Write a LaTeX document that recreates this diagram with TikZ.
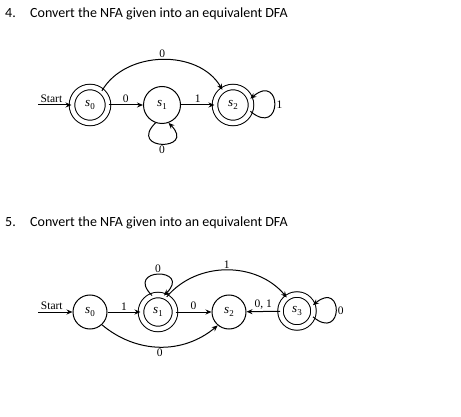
\documentclass[tikz,border=0pt]{standalone}
\usepackage{fontspec}
\setmainfont{Liberation Serif}
\newfontfamily\titlefont{Carlito}
\usetikzlibrary{arrows.meta}
\newcommand{\stlab}[1]{{\itshape s}\kern0.3pt\raisebox{-2.5pt}{\fontsize{9}{10}\selectfont #1}}
\tikzset{
  st/.style={circle,draw,line width=1pt,minimum size=37pt,inner sep=0pt,font=\fontsize{13}{14}\selectfont},
  acc/.style={st,double,double distance=4.5pt,minimum size=36pt},
  edge/.style={line width=1pt,-{Stealth[length=6pt,width=5pt]}},
  lab/.style={font=\fontsize{11.5}{13}\selectfont,inner sep=1.5pt},
  ttl/.style={font=\titlefont\fontsize{14}{16}\selectfont,anchor=base west,inner sep=0pt}
}
\begin{document}
\begin{tikzpicture}[x=1pt,y=1pt]
\useasboundingbox (0,0) rectangle (461,-417);
% titles
\node[ttl] (t4n) at (5,-18) {4.};
\node[ttl] (t4) at (30,-18) {Convert the NFA given into an equivalent DFA};
\node[ttl] (t5n) at (5,-226) {5.};
\node[ttl] (t5) at (30,-226) {Convert the NFA given into an equivalent DFA};
% ---- diagram 4 ----
\node[acc] (a0) at (90,-105) {\stlab{0}};
\node[st] (a1) at (162,-105) {\stlab{1}};
\node[acc] (a2) at (233,-105) {\stlab{2}};
\coordinate (as) at (38,-105);
\draw[edge] (as) -- node[lab,above,pos=0.4] {Start} (a0);
\draw[edge] (a0) -- node[lab,above] {0} (a1);
\draw[edge] (a1) -- node[lab,above] {1} (a2);
\draw[edge] (a0.50) to[out=60,in=120] node[lab,above] {0} (a2.125);
\draw[edge] (a1.-110) to[out=-135,in=-45,distance=40pt] node[lab,below] {0} (a1.-70);
\draw[edge] (a2.-20) to[out=-40,in=40,distance=42pt] node[lab,right] {1} (a2.20);
% ---- diagram 5 ----
\node[st,minimum size=34pt] (b0) at (90,-312) {\stlab{0}};
\node[acc,minimum size=34pt] (b1) at (158,-312) {\stlab{1}};
\node[st,minimum size=34pt] (b2) at (229,-312) {\stlab{2}};
\node[acc,minimum size=33pt] (b3) at (297,-311) {\stlab{3}};
\coordinate (bs) at (38,-312);
\draw[edge] (bs) -- node[lab,above,pos=0.4] {Start} (b0);
\draw[edge] (b0) -- node[lab,above] {1} (b1);
\draw[edge] (b1) -- node[lab,above] {0} (b2);
\draw[edge] (b3) -- node[lab,above] {0, 1} (b2);
\draw[edge] (b1.110) to[out=135,in=45,distance=40pt] node[lab,above] {0} (b1.70);
\draw[edge] (b1.60) to[out=50,in=130] node[lab,above] {1} (b3.127);
\draw[edge] (b0.-47) to[out=-40,in=-140] node[lab,below] {0} (b2.-130);
\draw[edge] (b3.-20) to[out=-40,in=40,distance=40pt] node[lab,right] {0} (b3.20);
\end{tikzpicture}
\end{document}
